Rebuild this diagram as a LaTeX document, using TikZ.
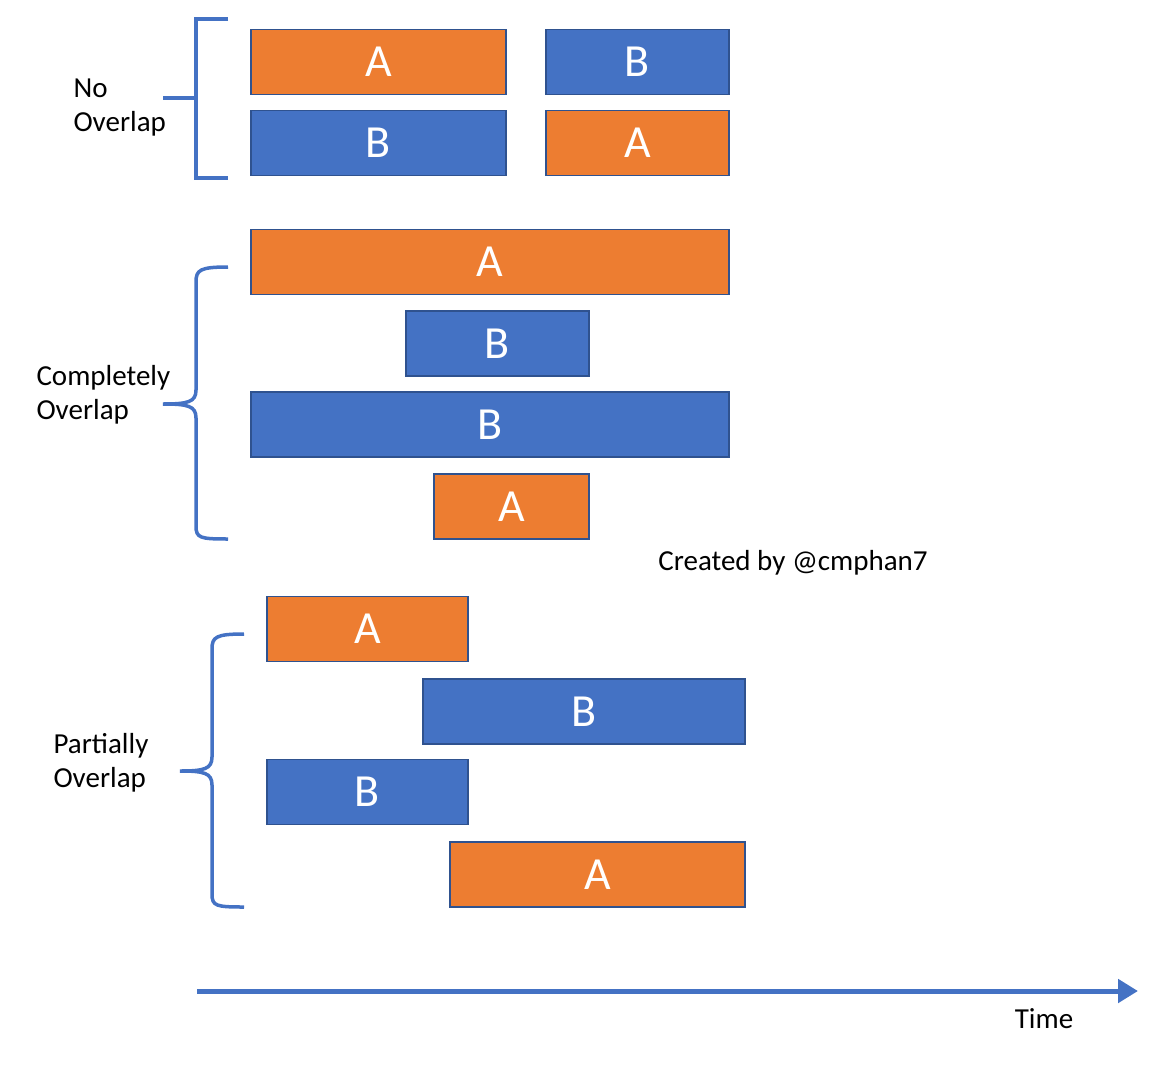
\documentclass[tikz,border=0pt]{standalone}
\usepackage{fontspec}
\setmainfont{Carlito}
\usetikzlibrary{arrows.meta}
\definecolor{barorange}{HTML}{ED7D31}
\definecolor{barblue}{HTML}{4472C4}
\definecolor{barline}{HTML}{2F528F}
\begin{document}
\begin{tikzpicture}[
    x=1pt, y=-1pt,
    bar/.style={draw=barline, line width=1.5pt, inner sep=0, minimum height=65pt, text=white, font=\fontsize{46}{46}\selectfont},
    abar/.style={bar, fill=barorange},
    bbar/.style={bar, fill=barblue},
    brace/.style={draw=barblue, line width=3.5pt},
    label/.style={anchor=west, align=left, font=\fontsize{29}{34}\selectfont},
    timeline/.style={draw=barblue, line width=5pt, -{Triangle[length=20pt, width=23pt]}}
    ]
    \useasboundingbox (0,0) rectangle (1166,1070);

    % No overlap
    \node[abar, minimum width=255pt] (a1) at (378.5,62) {A};
    \node[bbar, minimum width=183pt] (b1) at (637.5,62) {B};
    \node[bbar, minimum width=255pt] (b2) at (378.5,143) {B};
    \node[abar, minimum width=183pt] (a2) at (637.5,143) {A};
    \draw[brace] (228,19) -- (196,19) -- (196,178) -- (228,178);
    \draw[brace] (163,98) -- (196,98);
    \node[label] (no) at (70,108) {No\\Overlap};

    % Completely overlap
    \node[abar, minimum width=478pt] (a3) at (490,262) {A};
    \node[bbar, minimum width=183pt] (b3) at (497.5,343.5) {B};
    \node[bbar, minimum width=478pt] (b4) at (490,424.5) {B};
    \node[abar, minimum width=155pt] (a4) at (511.5,506.5) {A};
    \draw[brace] (228,267) .. controls (200,267) and (196,270) .. (196,282)
        -- (196,390) .. controls (196,402) and (188,404) .. (163,404)
        .. controls (188,404) and (196,406) .. (196,418)
        -- (196,526) .. controls (196,538) and (200,539) .. (228,539);
    \node[label] (complete) at (33,394.5) {Completely\\Overlap};

    \node (credit) at (793,563) {\fontsize{29}{34}\selectfont Created by @cmphan7};

    % Partially overlap
    \node[abar, minimum width=201pt] (a5) at (367.5,629) {A};
    \node[bbar, minimum width=322pt] (b5) at (584,711.5) {B};
    \node[bbar, minimum width=201pt] (b6) at (367.5,792) {B};
    \node[abar, minimum width=295pt] (a6) at (597.5,874.5) {A};
    \draw[brace] (244,634) .. controls (216,634) and (212,637) .. (212,649)
        -- (212,757) .. controls (212,769) and (204,771) .. (180,771)
        .. controls (204,771) and (212,773) .. (212,785)
        -- (212,894) .. controls (212,906) and (216,907) .. (244,907);
    \node[label] (partial) at (50,762.5) {Partially\\Overlap};

    % Time axis
    \coordinate (t0) at (197,991);
    \coordinate (t1) at (1138,991);
    \draw[timeline] (t0) -- (t1);
    \node (time) at (1044,1019) {\fontsize{29}{34}\selectfont Time};
\end{tikzpicture}
\end{document}
